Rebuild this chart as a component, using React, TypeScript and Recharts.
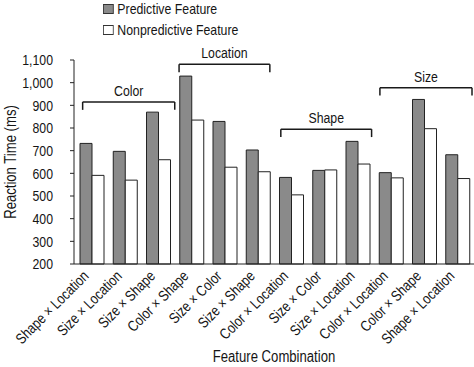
import { BarChart, Bar, XAxis, YAxis, Legend, ReferenceLine } from "recharts";

const categories = [
  "Shape × Location",
  "Size × Location",
  "Size × Shape",
  "Color × Shape",
  "Size × Color",
  "Size × Shape",
  "Color × Location",
  "Size × Color",
  "Size × Location",
  "Color × Location",
  "Color × Shape",
  "Shape × Location",
];
const predictive = [732, 697, 870, 1029, 829, 703, 582, 613, 741, 603, 926, 682];
const nonpredictive = [591, 570, 660, 835, 627, 607, 505, 615, 641, 580, 797, 577];
const seriesNames = ["Predictive Feature", "Nonpredictive Feature"];
const yTicks = [200, 300, 400, 500, 600, 700, 800, 900, 1000, 1100];

// group brackets, in category-slot units along x (slot i spans i..i+1)
const groupNames = ["Color", "Location", "Shape", "Size"];
const groupStart = [0.23, 3.13, 6.19, 9.17];
const groupEnd = [3.0, 5.86, 8.92, 11.94];
const groupLevel = [915, 1081, 795, 978];
const bracketDrop = 35;

// each category sits in the middle of its slot on a numeric axis
const data = categories.map((name, i) => ({
  name,
  slot: i + 0.5,
  predictive: predictive[i],
  nonpredictive: nonpredictive[i],
}));
const slotTicks = data.map((d) => d.slot);

// Arial-metric font squeezed horizontally ~ Arial Narrow
const FONT = "'Liberation Sans', Arial, sans-serif";
const SQUEEZE = 0.82;
const INK = "#151515";

function NarrowText({ x, y, anchor = "middle", angle = 0, size = 15, dy, children }: any) {
  return (
    <text
      transform={`translate(${x},${y}) rotate(${angle}) scale(${SQUEEZE},1)`}
      textAnchor={anchor}
      dy={dy}
      fontSize={size}
      fill={INK}
    >
      {children}
    </text>
  );
}

function AngledTick({ x, y, payload }: any) {
  return (
    <NarrowText x={x - 2} y={y + 5} anchor="end" angle={-45}>
      {categories[Math.floor(payload.value)]}
    </NarrowText>
  );
}

function YTick({ x, y, payload }: any) {
  return (
    <NarrowText x={x} y={y} anchor="end" dy="0.36em">
      {payload.value.toLocaleString("en-US")}
    </NarrowText>
  );
}

function LegendBox({ payload }: any) {
  const items = [...(payload || [])].sort(
    (a: any, b: any) => seriesNames.indexOf(a.value) - seriesNames.indexOf(b.value)
  );
  return (
    <div
      style={{
        fontSize: 15,
        color: INK,
        lineHeight: "20.5px",
        transform: `scaleX(${SQUEEZE})`,
        transformOrigin: "left top",
        whiteSpace: "nowrap",
      }}
    >
      {items.map((p: any) => (
        <div key={p.value} style={{ display: "flex", alignItems: "center" }}>
          <span
            style={{
              display: "inline-block",
              boxSizing: "border-box",
              width: 12.5,
              height: 10,
              background: p.color,
              border: "1px solid #333",
              marginRight: 5,
            }}
          />
          {p.value}
        </div>
      ))}
    </div>
  );
}

const bracketLabel = ({ viewBox, value }: any) => (
  <NarrowText x={viewBox.x + viewBox.width / 2} y={viewBox.y - 6}>
    {value}
  </NarrowText>
);

const xTitle = ({ viewBox }: any) => (
  <NarrowText x={viewBox.x + viewBox.width / 2} y={viewBox.y + viewBox.height - 5} size={16}>
    Feature Combination
  </NarrowText>
);

const yTitle = ({ viewBox }: any) => (
  <NarrowText x={viewBox.x + 10} y={viewBox.y + viewBox.height / 2} angle={-90} size={16} dy="0.36em">
    Reaction Time (ms)
  </NarrowText>
);

export default function App() {
  return (
    <div style={{ position: "absolute", left: 0, top: 0, fontFamily: FONT, background: "#fff" }}>
      <BarChart
        width={474}
        height={367}
        data={data}
        margin={{ top: 60, right: 0, left: 0, bottom: 0 }}
        barGap={0}
        barSize={12}
      >
        <XAxis
          dataKey="slot"
          type="number"
          domain={[0, categories.length]}
          allowDataOverflow
          ticks={slotTicks}
          height={103}
          padding={{ left: 1, right: 0 }}
          interval={0}
          tickLine={false}
          axisLine={{ stroke: "#222" }}
          tick={<AngledTick />}
          label={{ content: xTitle }}
        />
        <YAxis
          width={74}
          domain={[200, 1100]}
          ticks={yTicks}
          interval={0}
          tickSize={4}
          tickMargin={17}
          tick={<YTick />}
          tickLine={{ stroke: "#222" }}
          axisLine={{ stroke: "#222" }}
          label={{ content: yTitle }}
        />
        <Legend
          layout="vertical"
          verticalAlign="middle"
          align="center"
          wrapperStyle={{ top: -1, left: 103, width: 200, height: 44 }}
          content={<LegendBox />}
        />
        <Bar dataKey="predictive" name={seriesNames[0]} fill="#8a8a8a" stroke="#222" isAnimationActive={false} />
        <Bar dataKey="nonpredictive" name={seriesNames[1]} fill="#ffffff" stroke="#222" isAnimationActive={false} />
        {groupNames.map((g, i) => (
          <ReferenceLine
            key={g + "-h"}
            segment={[
              { x: groupStart[i], y: groupLevel[i] },
              { x: groupEnd[i], y: groupLevel[i] },
            ]}
            stroke="#1a1a1a"
            strokeWidth={1.5}
            label={{ value: g, content: bracketLabel }}
          />
        ))}
        {groupNames.map((g, i) => (
          <ReferenceLine
            key={g + "-l"}
            segment={[
              { x: groupStart[i], y: groupLevel[i] },
              { x: groupStart[i], y: groupLevel[i] - bracketDrop },
            ]}
            stroke="#1a1a1a"
            strokeWidth={1.5}
          />
        ))}
        {groupNames.map((g, i) => (
          <ReferenceLine
            key={g + "-r"}
            segment={[
              { x: groupEnd[i], y: groupLevel[i] },
              { x: groupEnd[i], y: groupLevel[i] - bracketDrop },
            ]}
            stroke="#1a1a1a"
            strokeWidth={1.5}
          />
        ))}
      </BarChart>
    </div>
  );
}
